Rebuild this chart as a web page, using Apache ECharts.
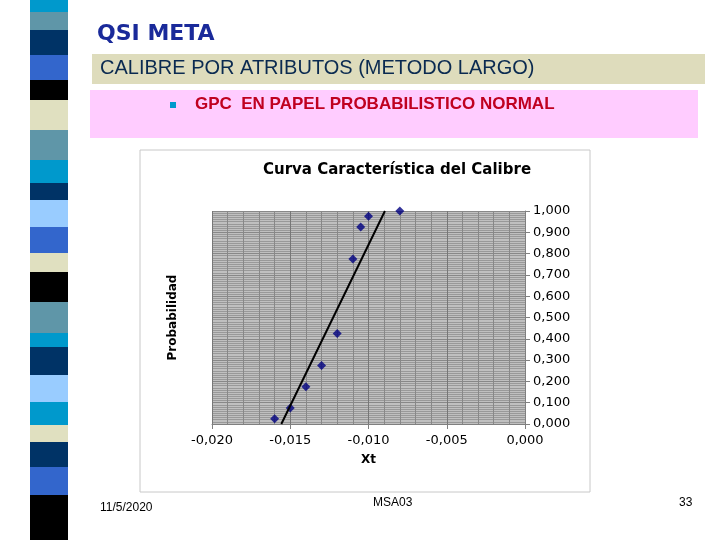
<!DOCTYPE html>
<html><head><meta charset="utf-8">
<script src="https://cdn.jsdelivr.net/npm/echarts@6/dist/echarts.min.js"></script>
<style>html,body{margin:0;padding:0;background:#fff}#c{width:720px;height:540px}</style>
</head><body><div id="c"></div>
<script>
const xtValues = [-0.016, -0.015, -0.014, -0.013, -0.012, -0.011, -0.0105, -0.010, -0.008];
const probValues = [0.025, 0.075, 0.175, 0.275, 0.425, 0.775, 0.925, 0.975, 1.000];
const fitLine = [[-0.01557, 0], [-0.00895, 1]];
const stripeColors = ['#0099cc','#5f96a8','#003366','#3366cc','#000000','#e0e0c0','#5f96a8','#0099cc','#003366','#99ccff','#3366cc','#e0e0c0','#000000','#5f96a8','#0099cc','#003366','#99ccff','#0099cc','#e0e0c0','#003366','#3366cc','#000000'];
const stripeBounds = [0,12,30,55,80,100,130,160,183,200,227,253,272,302,333,347,375,402,425,442,467,495,540];

const fmt = v => v.toFixed(3).replace('.', ',');
const graphics = [];
stripeColors.forEach((c,i)=>{
  graphics.push({type:'rect',shape:{x:30,y:stripeBounds[i],width:38,height:stripeBounds[i+1]-stripeBounds[i]},style:{fill:c},z:0});
});
graphics.push(
  {type:'text',left:97,top:23,style:{text:'QSI META',font:'bold 22px "DejaVu Sans"',fill:'#1a2a9a'}},
  {type:'rect',shape:{x:92,y:54,width:613,height:30},style:{fill:'#dedcbc'}},
  {type:'text',left:100,top:58,style:{text:'CALIBRE POR ATRIBUTOS (METODO LARGO)',font:'20px "Liberation Sans"',fill:'#0a2a50'}},
  {type:'rect',shape:{x:90,y:90,width:608,height:48},style:{fill:'#ffccff'}},
  {type:'rect',shape:{x:170,y:102,width:6,height:6},style:{fill:'#0099cc'}},
  {type:'text',left:195,top:96,style:{text:'GPC  EN PAPEL PROBABILISTICO NORMAL',font:'bold 17px "Liberation Sans"',fill:'#c00020'}},
  {type:'rect',shape:{x:140,y:150,width:450,height:342},style:{fill:'#fff',stroke:'#c8c8c8',lineWidth:1},z:-1},
  {type:'text',left:100,top:502,style:{text:'11/5/2020',font:'12px "Liberation Sans"',fill:'#000'}},
  {type:'text',left:373,top:497,style:{text:'MSA03',font:'12px "Liberation Sans"',fill:'#000'}},
  {type:'text',left:679,top:497,style:{text:'33',font:'12px "Liberation Sans"',fill:'#000'}}
);

const chart = echarts.init(document.getElementById('c'));
chart.setOption({
  animation:false,
  title:{text:'Curva Característica del Calibre',left:392,top:158,textAlign:'center',textStyle:{fontFamily:'DejaVu Sans',fontWeight:'bold',fontSize:15,color:'#000'}},
  graphic:graphics,
  grid:{left:212,right:195,top:211,bottom:116,backgroundColor:'#c0c0c0',show:true,borderWidth:0},
  xAxis:{type:'value',min:-0.02,max:0,interval:0.005,name:'Xt',nameLocation:'middle',nameGap:30,
    nameTextStyle:{fontFamily:'DejaVu Sans',fontWeight:'bold',fontSize:12,color:'#000'},
    axisLine:{lineStyle:{color:'#808080'}},axisTick:{show:true,lineStyle:{color:'#808080'}},
    axisLabel:{formatter:fmt,fontFamily:'DejaVu Sans',fontSize:13,color:'#000',margin:10},
    splitLine:{show:true,lineStyle:{color:'#777',width:1}},
    minorTick:{show:false,splitNumber:5},minorSplitLine:{show:true,lineStyle:{color:'#888',width:1}}},
  yAxis:{type:'value',position:'right',min:0,max:1,interval:0.1,name:'Probabilidad',nameLocation:'middle',nameRotate:90,nameGap:-358,
    nameTextStyle:{fontFamily:'DejaVu Sans',fontWeight:'bold',fontSize:12,color:'#000'},
    axisLine:{show:true,lineStyle:{color:'#808080'}},axisTick:{show:true,lineStyle:{color:'#808080'}},
    axisLabel:{formatter:fmt,fontFamily:'DejaVu Sans',fontSize:13,color:'#000',margin:8},
    splitLine:{show:true,lineStyle:{color:'#888',width:1}},
    minorTick:{show:false,splitNumber:10},minorSplitLine:{show:true,lineStyle:{color:'#999',width:1}}},
  series:[
    {type:'line',data:fitLine,symbol:'none',lineStyle:{color:'#000',width:2},silent:true,clip:true},
    {type:'scatter',data:xtValues.map((x,i)=>[x,probValues[i]]),symbol:'diamond',symbolSize:9,itemStyle:{color:'#000080'},clip:false}
  ]
});
</script></body></html>
